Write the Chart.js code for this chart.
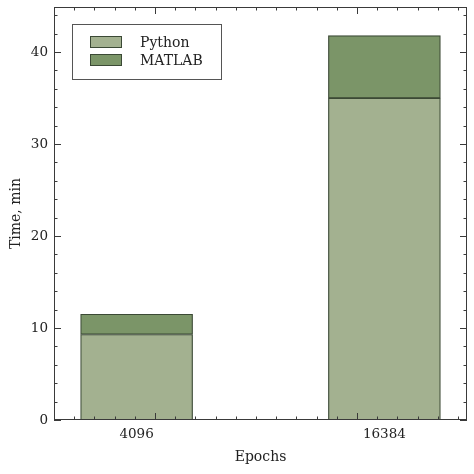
<!DOCTYPE html>
<html><head><meta charset="utf-8">
<script src="https://cdn.jsdelivr.net/npm/chart.js@4"></script>
<style>html,body{margin:0;padding:0;background:#fff}#wrap{width:474px;height:474px;position:relative}</style>
</head><body><div id="wrap"><canvas id="c"></canvas></div>
<script>
// ---- data ----
const categories = ['4096', '16384'];
const categoryPositions = [0, 1];
const pythonTimes = [9.3, 35.0];
const matlabTimes = [2.2, 6.8];
const seriesNames = ['Python', 'MATLAB'];
const yTickValues = [0, 10, 20, 30, 40];

// ---- style ----
const FONT = 'DejaVu Serif';
const TEXT = '#222';
const AXIS = '#3a3a3a';
const PY_FILL = '#a3b190';
const ML_FILL = '#7b9568';
const EDGE = '#3b4935';

const makeData = vals => categoryPositions.map((x, i) => ({x: x, y: vals[i]}));

const framePlugin = {
  id: 'frame',
  afterDatasetsDraw(chart) {
    const {ctx, chartArea: a, scales} = chart;
    const y = scales.y, xt = scales.xt;
    ctx.save();
    ctx.strokeStyle = AXIS; ctx.lineWidth = 1;
    ctx.beginPath();
    for (let v = 0; v <= y.max + 1e-9; v += 2) {
      const p = Math.round(y.getPixelForValue(v)) + 0.5;
      const len = (v % 10 === 0) ? 7 : 3.5;
      ctx.moveTo(a.left, p); ctx.lineTo(a.left + len, p);
      ctx.moveTo(a.right, p); ctx.lineTo(a.right - len, p);
    }
    for (let v = 1; v < xt.max; v += 1) {
      const p = Math.round(xt.getPixelForValue(v)) + 0.5;
      const len = (v % 10 === 5) ? 7 : 3.5;
      ctx.moveTo(p, a.bottom); ctx.lineTo(p, a.bottom - len);
      ctx.moveTo(p, a.top); ctx.lineTo(p, a.top + len);
    }
    ctx.stroke();
    ctx.strokeRect(Math.round(a.left) + 0.5, Math.round(a.top) + 0.5,
                   Math.round(a.right - a.left) - 1, Math.round(a.bottom - a.top) - 1);
    ctx.restore();
  },
  afterDraw(chart) {
    const {ctx, chartArea: a} = chart;
    const bx = a.left + 18, by = a.top + 17, bw = 149, bh = 55;
    ctx.save();
    ctx.fillStyle = '#fff';
    ctx.fillRect(bx, by, bw, bh);
    ctx.strokeStyle = '#555'; ctx.lineWidth = 1;
    ctx.strokeRect(bx + 0.5, by + 0.5, bw, bh);
    chart.data.datasets.forEach((ds, i) => {
      const cy = by + 18 + i * 18;
      ctx.fillStyle = ds.backgroundColor;
      ctx.fillRect(bx + 18, cy - 6, 32, 12);
      ctx.strokeStyle = EDGE; ctx.lineWidth = 1;
      ctx.strokeRect(bx + 18.5, cy - 5.5, 31, 11);
      ctx.fillStyle = TEXT;
      ctx.font = '14px "' + FONT + '"';
      ctx.textBaseline = 'middle';
      ctx.textAlign = 'left';
      ctx.fillText(ds.label, bx + 68, cy + 1);
    });
    ctx.restore();
  }
};

new Chart(document.getElementById('c'), {
  type: 'bar',
  data: {
    datasets: [
      {label: seriesNames[0], data: makeData(pythonTimes), backgroundColor: PY_FILL,
       borderColor: EDGE, borderWidth: 1.2, borderSkipped: false, barThickness: 112},
      {label: seriesNames[1], data: makeData(matlabTimes), backgroundColor: ML_FILL,
       borderColor: EDGE, borderWidth: 1.2, borderSkipped: false, barThickness: 112}
    ]
  },
  options: {
    responsive: true,
    maintainAspectRatio: false,
    animation: false,
    layout: {padding: {top: 7, right: 7, left: 0, bottom: 0}},
    plugins: {legend: {display: false}, tooltip: {enabled: false}},
    scales: {
      x: {
        type: 'linear', position: 'bottom', stacked: true, offset: false,
        min: -1/3, max: 4/3,
        afterBuildTicks: s => { s.ticks = categoryPositions.map(v => ({value: v})); },
        afterFit: s => { s.height = 54; s.paddingLeft = 0; s.paddingRight = 0; },
        grid: {display: false, drawTicks: false},
        border: {display: false},
        ticks: {
          padding: 6, color: TEXT, font: {family: FONT, size: 13.5},
          maxRotation: 0, autoSkip: false,
          callback: v => { const i = categoryPositions.indexOf(v); return i >= 0 ? categories[i] : ''; }
        },
        title: {display: true, text: 'Epochs', color: TEXT, font: {family: FONT, size: 14},
                padding: {top: 4, bottom: 8}}
      },
      xt: {
        type: 'linear', position: 'top', min: 0, max: 20.45, offset: false,
        afterFit: s => { s.height = 0; s.paddingLeft = 0; s.paddingRight = 0; },
        grid: {display: false, drawTicks: false}, border: {display: false},
        ticks: {display: false}
      },
      y: {
        type: 'linear', position: 'left', stacked: true,
        min: 0, max: 44.9,
        afterBuildTicks: s => { s.ticks = yTickValues.map(v => ({value: v})); },
        afterFit: s => { s.width = 54; s.paddingTop = 0; s.paddingBottom = 0; },
        grid: {display: false, drawTicks: false},
        border: {display: false},
        ticks: {padding: 6, color: TEXT, font: {family: FONT, size: 13.5}},
        title: {display: true, text: 'Time, min', color: TEXT, font: {family: FONT, size: 14},
                padding: {top: 8, bottom: 4}}
      }
    }
  },
  plugins: [framePlugin]
});
</script>
</body></html>
